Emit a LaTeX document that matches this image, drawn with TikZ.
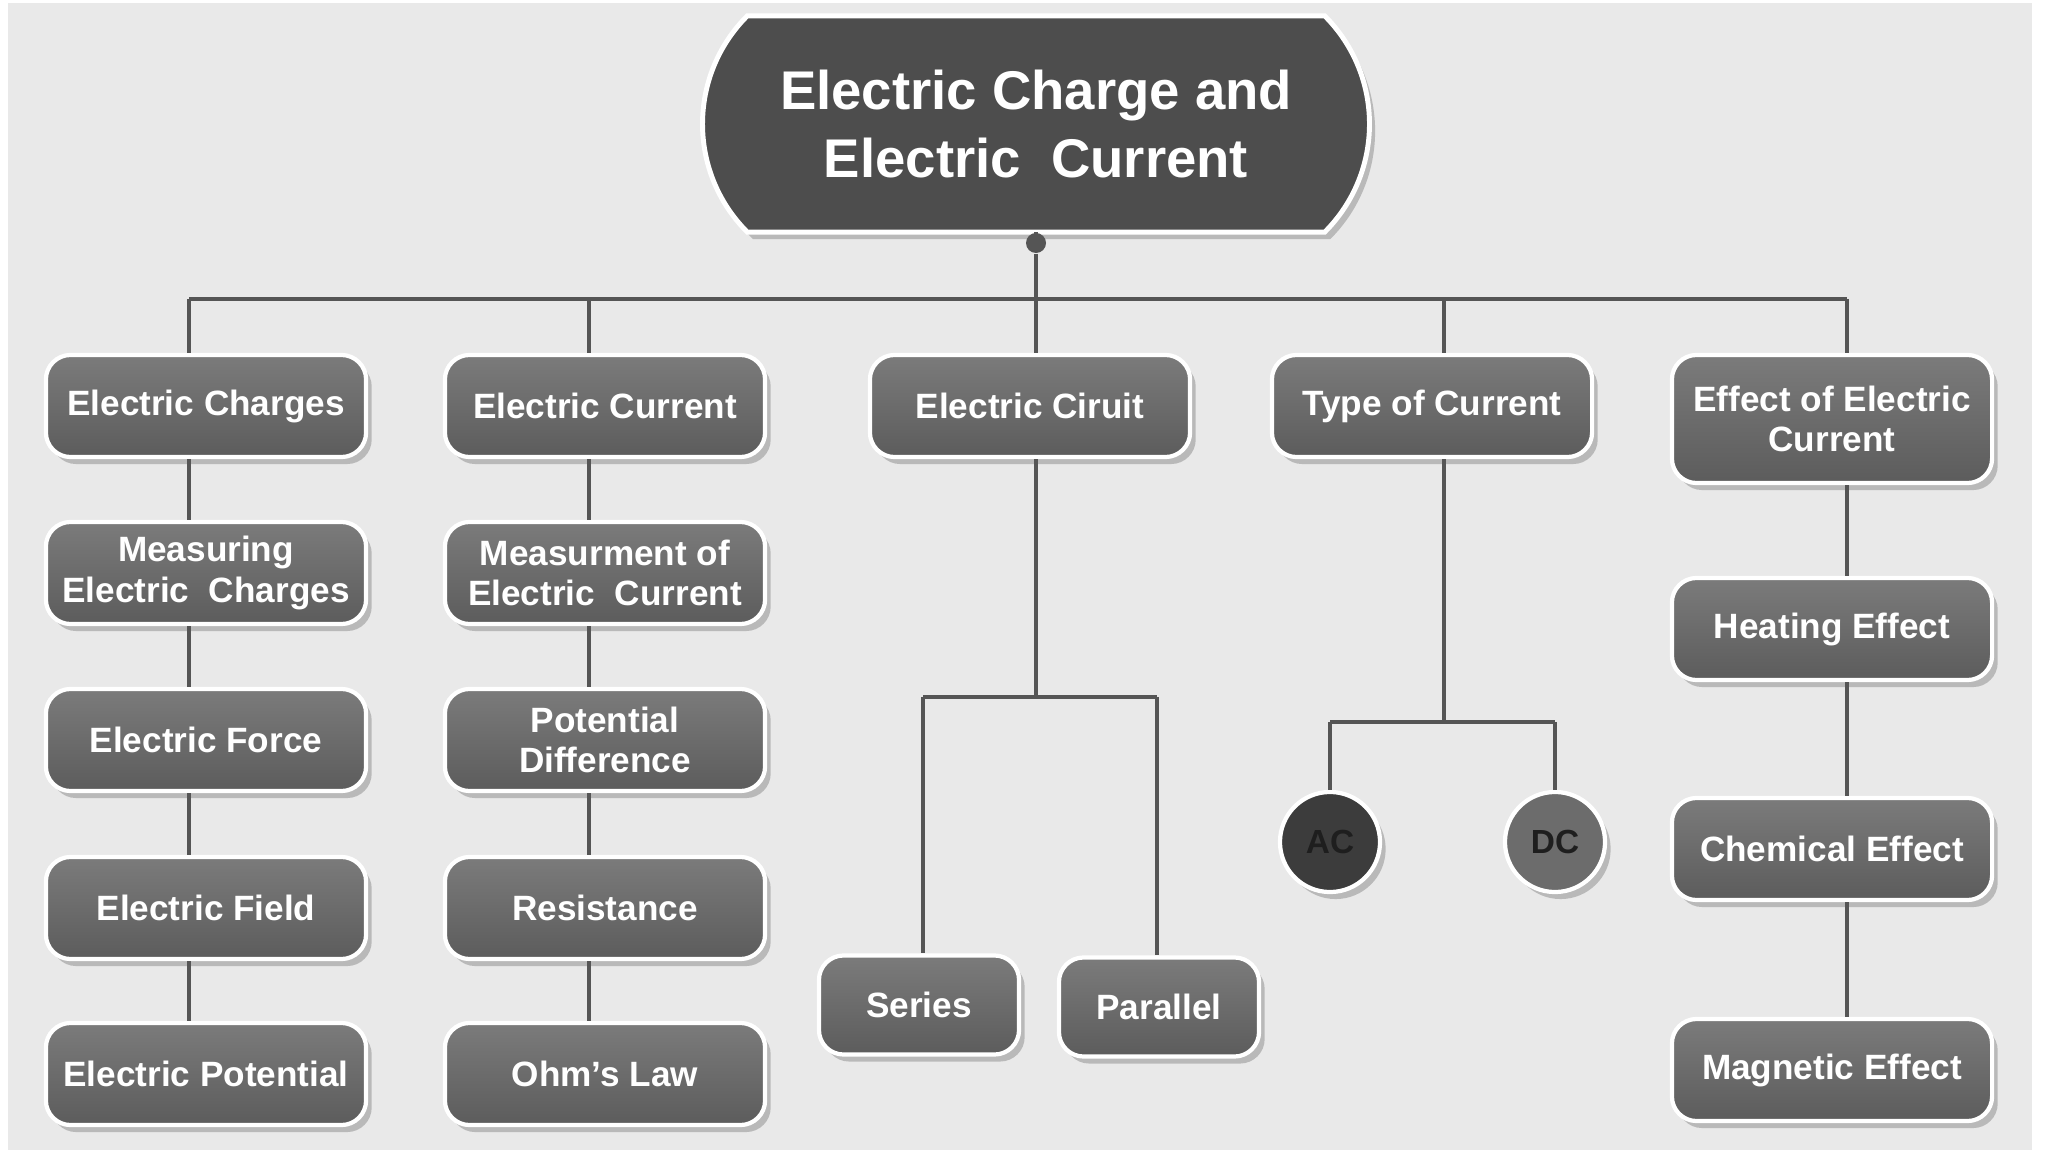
\documentclass[tikz,border=0pt]{standalone}
\usepackage{fontspec}
\setsansfont{Liberation Sans}
\usetikzlibrary{shapes.misc,shadows,positioning}
\definecolor{paper}{HTML}{E9E9E9}
\definecolor{boxtop}{HTML}{7B7B7B}
\definecolor{boxbot}{HTML}{5C5C5C}
\definecolor{titlegray}{HTML}{4D4D4D}
\definecolor{linegray}{HTML}{555555}
\definecolor{acgray}{HTML}{3C3C3C}
\definecolor{dcgray}{HTML}{6C6C6C}
\definecolor{darktext}{HTML}{1E1E1E}
\tikzset{
  softshadow/.style={
    drop shadow={shadow xshift=1.6pt, shadow yshift=-2pt, opacity=0.3, fill=black!70}
  },
  topic/.style={
    rounded rectangle,
    rounded rectangle arc length=90,
    draw=white,
    line width=1.4pt,
    fill=titlegray,
    text=white,
    align=center,
    font=\sffamily\bfseries\fontsize{15.5}{19.5}\selectfont,
    minimum width=6.9cm,
    minimum height=2.16cm,
    softshadow
  },
  box/.style={
    draw=white,
    rounded corners=7pt,
    line width=1.2pt,
    top color=boxtop,
    bottom color=boxbot,
    text=white,
    align=center,
    inner sep=2pt,
    font=\sffamily\bfseries\fontsize{10}{11.5}\selectfont,
    minimum width=3.2cm,
    minimum height=1.02cm,
    softshadow
  },
  smallbox/.style={
    box,
    minimum width=2.0cm,
    minimum height=0.99cm
  },
  disc/.style={
    circle,
    draw=white,
    line width=1.2pt,
    minimum size=1cm,
    inner sep=0pt,
    text=darktext,
    font=\sffamily\bfseries\fontsize{9.5}{11}\selectfont,
    softshadow
  },
  link/.style={
    draw=linegray,
    line width=0.9pt
  },
  hub/.style={
    circle,
    fill=linegray,
    inner sep=0pt,
    minimum size=0.2cm
  }
}

\begin{document}
\begin{tikzpicture}[x=0.01cm,y=-0.01cm]
  \useasboundingbox (0,0) rectangle (2048,1152);
  \fill[white] (0,0) rectangle (2048,1152);
  \fill[paper] (8,3) rectangle (2032,1150);

  \node[topic] (title) at (1036,124) {Electric Charge and\\Electric\ \ Current};
  \node[hub] (hub) at (1036,243) {};

  % bus along the first row
  \coordinate (bus1) at (189,299);
  \coordinate (bus2) at (589,299);
  \coordinate (bus3) at (1036,299);
  \coordinate (bus4) at (1444,299);
  \coordinate (bus5) at (1847,299);

  % column 1
  \node[box] (chg) at (206,406) {Electric Charges};
  \node[box] (mchg) at (206,573) {Measuring\\Electric\ \ Charges};
  \node[box] (force) at (206,740) {Electric Force};
  \node[box] (field) at (206,908) {Electric Field};
  \node[box] (pot) at (206,1074) {Electric Potential};

  % column 2
  \node[box] (cur) at (605,406) {Electric Current};
  \node[box] (mcur) at (605,573) {Measurment of\\Electric\ \ Current};
  \node[box] (pdiff) at (605,740) {Potential\\Difference};
  \node[box] (res) at (605,908) {Resistance};
  \node[box] (ohm) at (605,1074) {Ohm's Law};

  % column 3
  \node[box] (cir) at (1030,406) {Electric Ciruit};
  \node[smallbox] (ser) at (919,1005) {Series};
  \node[smallbox] (par) at (1159,1007) {Parallel};
  \coordinate (cirj) at (1036,697);
  \coordinate (serj) at (923,697);
  \coordinate (parj) at (1157,697);

  % column 4
  \node[box] (typ) at (1432,406) {Type of Current};
  \node[disc, fill=acgray] (ac) at (1330,842) {AC};
  \node[disc, fill=dcgray] (dc) at (1555,842) {DC};
  \coordinate (typj) at (1444,722);
  \coordinate (acj) at (1330,722);
  \coordinate (dcj) at (1555,722);

  % column 5
  \node[box, minimum height=1.28cm] (eff) at (1832,419) {Effect of Electric\\Current};
  \node[box] (heat) at (1832,629) {Heating Effect};
  \node[box] (chem) at (1832,849) {Chemical Effect};
  \node[box] (mag) at (1832,1070) {Magnetic Effect};

  \draw[link] (title.south) -- (hub);
  \draw[link] (hub) -- (bus3);
  \draw[link] (bus1) -- (bus5);
  \draw[link] (bus1) -- (chg.north -| bus1);
  \draw[link] (bus2) -- (cur.north -| bus2);
  \draw[link] (bus3) -- (cir.north -| bus3);
  \draw[link] (bus4) -- (typ.north -| bus4);
  \draw[link] (bus5) -- (eff.north -| bus5);

  \draw[link] (chg.south -| bus1) -- (mchg.north -| bus1);
  \draw[link] (mchg.south -| bus1) -- (force.north -| bus1);
  \draw[link] (force.south -| bus1) -- (field.north -| bus1);
  \draw[link] (field.south -| bus1) -- (pot.north -| bus1);

  \draw[link] (cur.south -| bus2) -- (mcur.north -| bus2);
  \draw[link] (mcur.south -| bus2) -- (pdiff.north -| bus2);
  \draw[link] (pdiff.south -| bus2) -- (res.north -| bus2);
  \draw[link] (res.south -| bus2) -- (ohm.north -| bus2);

  \draw[link] (cir.south -| cirj) -- (cirj);
  \draw[link] (serj) -- (parj);
  \draw[link] (serj) -- (ser.north -| serj);
  \draw[link] (parj) -- (par.north -| parj);

  \draw[link] (typ.south -| typj) -- (typj);
  \draw[link] (acj) -- (dcj);
  \draw[link] (acj) -- (ac.north);
  \draw[link] (dcj) -- (dc.north);

  \draw[link] (eff.south -| bus5) -- (heat.north -| bus5);
  \draw[link] (heat.south -| bus5) -- (chem.north -| bus5);
  \draw[link] (chem.south -| bus5) -- (mag.north -| bus5);
\end{tikzpicture}
\end{document}
